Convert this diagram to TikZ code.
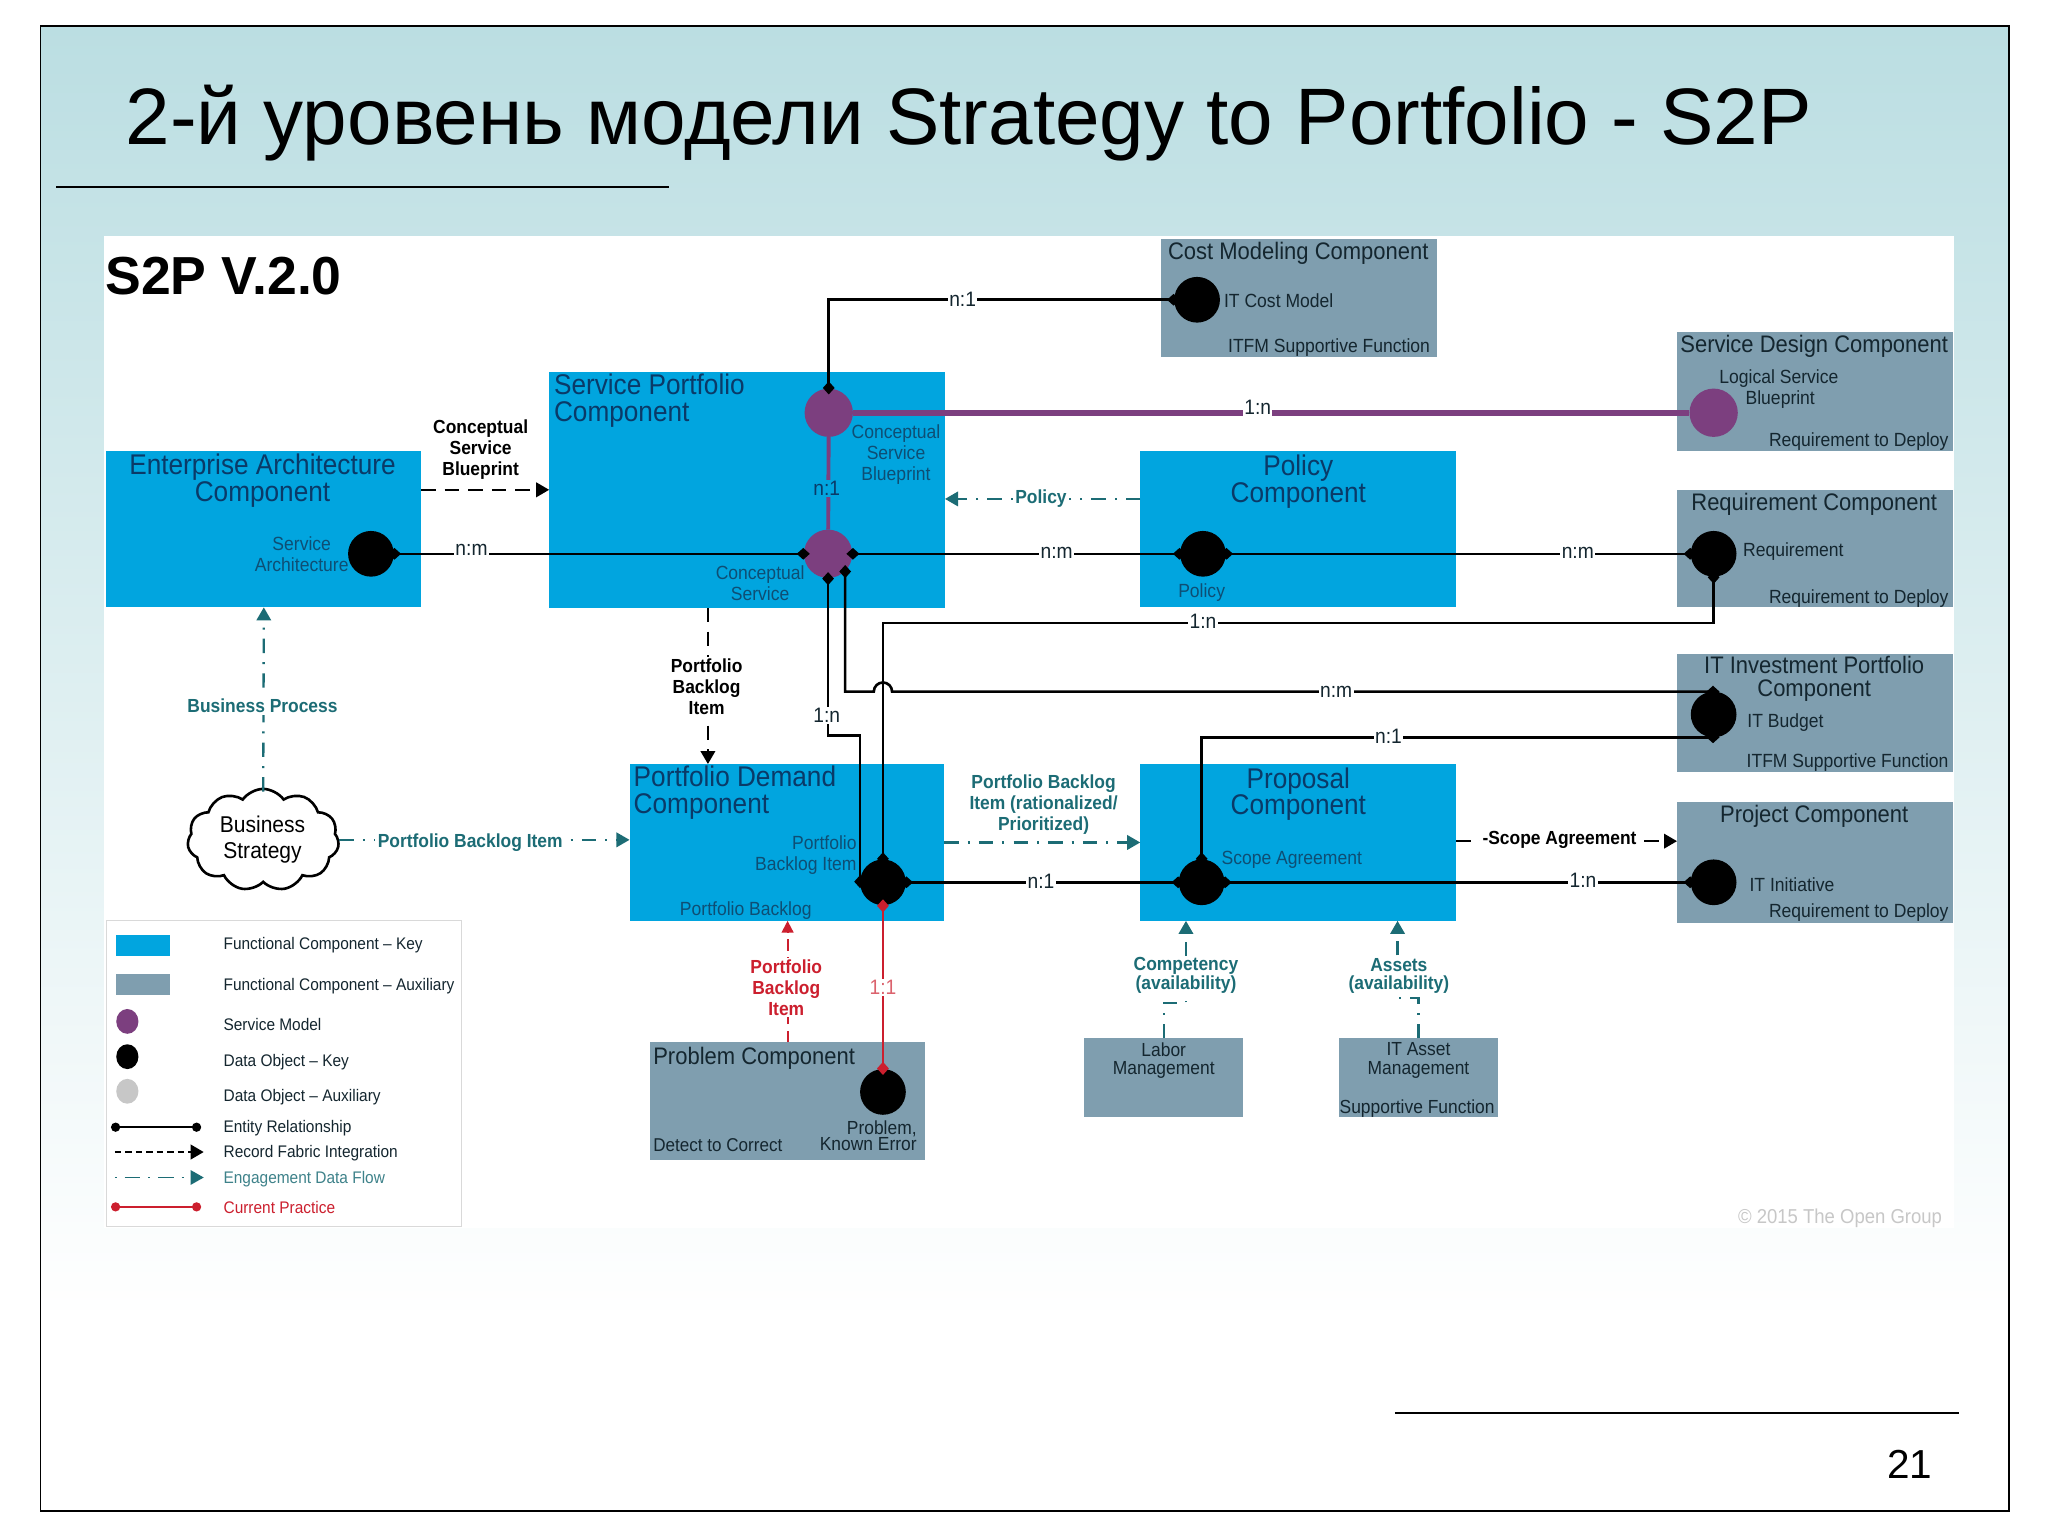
\documentclass[tikz,border=0pt]{standalone}
\usepackage{fontspec}
\setmainfont[FakeStretch=0.92]{Liberation Sans}
\newfontfamily\ttlfont{Liberation Sans}
\usetikzlibrary{arrows.meta,shapes.symbols,shapes.geometric}
\definecolor{keyblue}{HTML}{01A5DF}
\definecolor{auxgrey}{HTML}{7F9EAF}
\definecolor{svcpurple}{HTML}{7C3F7F}
\definecolor{navy}{HTML}{0A3A68}
\definecolor{midnavy}{HTML}{0E4E74}
\definecolor{inkdark}{HTML}{14262F}
\definecolor{flowteal}{HTML}{1C6C75}
\definecolor{redline}{HTML}{CC1F2E}
\definecolor{slidetop}{HTML}{BBDEE2}
\tikzset{
 x=1pt,y=-1pt,
 box/.style={rectangle,inner sep=0pt,outer sep=0pt},
 keybox/.style={box,fill=keyblue},
 auxbox/.style={box,fill=auxgrey},
 dobj/.style={circle,fill=black,inner sep=0pt,outer sep=0pt,minimum size=35pt},
 svcobj/.style={circle,fill=svcpurple,inner sep=0pt,outer sep=0pt,minimum size=37pt},
 ktitle/.style={inner sep=0pt,yshift=-1pt,align=center,text=navy,font=\fontsize{21.8}{20.5}\selectfont},
 ktitlel/.style={ktitle,anchor=west,align=left},
 atitle/.style={inner sep=0pt,yshift=-1pt,align=center,text=inkdark,font=\fontsize{18.3}{17.5}\selectfont},
 ksub/.style={inner sep=0pt,yshift=-1pt,align=center,text=midnavy,font=\fontsize{14.6}{16}\selectfont},
 asub/.style={inner sep=0pt,yshift=-1pt,align=center,text=inkdark,font=\fontsize{14.6}{13}\selectfont},
 blk/.style={inner sep=0pt,align=center,text=black,font=\bfseries\fontsize{14.5}{16}\selectfont},
 tealb/.style={inner sep=0pt,align=center,text=flowteal,font=\bfseries\fontsize{14.5}{16}\selectfont},
 redb/.style={inner sep=0pt,align=center,text=redline,font=\bfseries\fontsize{14.5}{16}\selectfont},
 lblw/.style={fill=white,inner sep=1pt,text=inkdark,font=\fontsize{16}{16}\selectfont},
 lblb/.style={fill=keyblue,inner sep=1pt,text=navy,font=\fontsize{16}{16}\selectfont},
 lgd/.style={inner sep=0pt,yshift=-0.7pt,anchor=west,text=inkdark,font=\fontsize{12.85}{14}\selectfont},
 er/.style={draw=black,line width=2pt,line join=miter,{Diamond[length=10pt,width=9pt]}-{Diamond[length=10pt,width=9pt]},shorten <=-4.5pt,shorten >=-4.5pt},
 rec/.style={draw=black,line width=2pt,dash pattern=on 11pt off 7pt,-{Triangle[length=10pt,width=11pt]}},
 flow/.style={draw=flowteal,line width=1.8pt,dash pattern=on 11pt off 7pt on 1.5pt off 7pt,-{Triangle[length=10pt,width=11pt]}},
 red flow/.style={draw=redline,line width=1.4pt,dash pattern=on 9pt off 5pt,-{Triangle[length=9pt,width=9pt]}},
}
\begin{document}
\begin{tikzpicture}
\useasboundingbox (0,0) rectangle (1568,1176);
% slide
\fill[white] (0,0) rectangle (1568,1176);
\shade[top color=slidetop,bottom color=white] (31,20) rectangle (1538,1010);
\fill[white] (31,1010) rectangle (1538,1157);
\fill[white] (80,181) rectangle (1496,940);
\draw[black,line width=1.4pt] (31,20) rectangle (1538,1157);
\node[anchor=base west,inner sep=0pt,font=\ttlfont\fontsize{61.3}{61}\selectfont,text=black] (title) at (96,111) {2-й уровень модели Strategy to Portfolio - S2P};
\coordinate (tl1) at (43,143); \coordinate (tl2) at (512,143);
\draw[black,line width=1.3pt] (tl1) -- (tl2);
\coordinate (bl1) at (1068,1081.5); \coordinate (bl2) at (1500,1081.5);
\draw[black,line width=1.5pt] (bl1) -- (bl2);
\node[inner sep=0pt,font=\ttlfont\fontsize{31}{31}\selectfont] (pageno) at (1462,1121) {21};
\node[anchor=west,inner sep=0pt,font=\ttlfont\bfseries\fontsize{41}{41}\selectfont,text=black] (s2p) at (80.5,211) {S2P V.2.0};

% boxes
\node[keybox,minimum width=241pt,minimum height=120pt] (ea) at (202,405) {};
\node[keybox,minimum width=303pt,minimum height=181pt] (sp) at (572,375) {};
\node[keybox,minimum width=241pt,minimum height=120pt] (pd) at (602.5,645) {};
\node[keybox,minimum width=242pt,minimum height=120pt] (pol) at (994,405) {};
\node[keybox,minimum width=242pt,minimum height=120pt] (prop) at (994,645) {};
\node[auxbox,minimum width=211pt,minimum height=90pt] (cost) at (994.5,228) {};
\node[auxbox,minimum width=211pt,minimum height=91pt] (sd) at (1389.5,299.5) {};
\node[auxbox,minimum width=211pt,minimum height=90pt] (req) at (1389.5,420) {};
\node[auxbox,minimum width=211pt,minimum height=90pt] (inv) at (1389.5,546) {};
\node[auxbox,minimum width=211pt,minimum height=93pt] (proj) at (1389.5,660.5) {};
\node[auxbox,minimum width=210pt,minimum height=90pt] (prob) at (603,843) {};
\node[auxbox,minimum width=122pt,minimum height=60pt] (lab) at (891,825) {};
\node[auxbox,minimum width=122pt,minimum height=60pt] (ita) at (1086,825) {};
\node[cloud,cloud puffs=11,cloud puff arc=110,aspect=1.5,draw=black,line width=2pt,fill=white,minimum width=116pt,minimum height=78pt,inner sep=0pt] (strat) at (201.5,643) {};

% data objects
\node[dobj] (sa) at (284,424) {};
\node[svcobj] (csb) at (634.5,316) {};
\node[svcobj] (cs) at (634,424) {};
\node[dobj] (pbi) at (676,675.5) {};
\node[dobj] (polo) at (921,424) {};
\node[dobj] (scope) at (920,675.5) {};
\node[dobj] (itc) at (916.5,229.5) {};
\node[svcobj] (lsb) at (1312,316) {};
\node[dobj] (reqo) at (1312,424) {};
\node[dobj] (bud) at (1312,547) {};
\node[dobj] (init) at (1312,675.5) {};
\node[dobj] (pke) at (676,836) {};

% coordinates for bends
\coordinate (jreq) at (1312,477);
\coordinate (jcs) at (634,563);
\coordinate (jhop) at (0,529.5);
\coordinate (hopa) at (669,529.5);
\coordinate (jlab) at (891,768);
\coordinate (jlabb) at (908,768);
\coordinate (jita) at (1086,764);
\coordinate (jitb) at (1070,764);

% entity relationships
\draw[er] (itc.west) -- (csb.north |- itc.west) -- (csb.north);
\draw[er] (sa) -- (cs);
\draw[er] (cs) -- (polo);
\draw[er] (polo) -- (reqo);
\draw[er] (reqo.south) -- (jreq) -- (pbi.north |- jreq) -- (pbi.north);
\draw[er] (cs.south) -- (jcs) -- (pbi.west |- jcs) -- (pbi.west);
\draw[er] (cs.-45) -- (cs.-45 |- jhop) -- (hopa) arc[start angle=180,end angle=0,radius=7pt] -- (bud.north);
\draw[er] (bud.south) -- (scope.north |- bud.south) -- (scope.north);
\draw[er] (pbi) -- (scope);
\draw[er] (scope) -- (init);
\draw[draw=svcpurple,line width=4.5pt] (csb) -- (lsb);
\draw[draw=svcpurple,line width=3pt] (csb) -- (cs);
\draw[er,draw=redline,line width=2pt] (pbi.south) -- (pke.north);

% integration and flows
\draw[rec] (ea.east |- 0,375) -- (sp.west |- 0,375);
\draw[rec] (sp.south -| 542,0) -- (pd.north -| 542,0);
\draw[rec] (prop.east |- 0,644) -- (proj.west |- 0,644);
\draw[flow] (strat.north |- 0,606) -- (ea.south -| 202,0);
\draw[flow] (strat.east) -- (pd.west |- strat.east);
\draw[flow] (pol.west |- 0,382) -- (sp.east |- 0,382);
\draw[flow] (pd.east |- 0,645) -- (prop.west |- 0,645);
\draw[flow] (lab.north) -- (jlab) -- (jlabb) -- (jlabb |- prop.south);
\draw[flow] (ita.north) -- (jita) -- (jitb) -- (jitb |- prop.south);
\draw[red flow] (prob.north) -- (pd.south -| prob.north);

% connector labels
\node[lblw] (l1) at (737,229) {n:1};
\node[lblw] (l2) at (963,312) {1:n};
\node[lblb] (l3) at (633,374) {n:1};
\node[lblw] (l4) at (361,421) {n:m};
\node[lblw] (l5) at (809,423) {n:m};
\node[lblw] (l6) at (1208,423) {n:m};
\node[lblw] (l7) at (921,476) {1:n};
\node[lblw] (l8) at (1023,530) {n:m};
\node[lblw] (l9) at (1063,564) {n:1};
\node[lblw] (l10) at (633,548) {1:n};
\node[lblw] (l11) at (797,675) {n:1};
\node[lblw] (l12) at (1212,674) {1:n};
\node[lblw,text=redline!70] (l13) at (676,756) {1:1};

\node[blk,fill=white,inner sep=2pt] (t1) at (368,344) {Conceptual\\Service\\Blueprint};
\node[blk,fill=white,inner sep=2pt] (t2) at (541,526) {Portfolio\\Backlog\\Item};
\node[blk,fill=white,inner sep=2pt] (t3) at (1194,643) {-Scope Agreement};
\node[tealb,fill=white,inner sep=2pt] (t4) at (201,540) {Business Process};
\node[tealb,fill=white,inner sep=2pt] (t5) at (360,645) {Portfolio Backlog Item};
\node[tealb,fill=white,inner sep=2pt] (t6) at (797,382) {Policy};
\node[tealb,fill=white,inner sep=1pt] (t7) at (799,616) {Portfolio Backlog\\Item (rationalized/\\Prioritized)};
\node[tealb,fill=white,inner sep=1pt,font=\bfseries\fontsize{14.5}{13.5}\selectfont] (t8) at (908,747) {Competency\\(availability)};
\node[tealb,fill=white,inner sep=1pt,font=\bfseries\fontsize{14.5}{13.5}\selectfont] (t9) at (1071,747) {Assets\\(availability)};
\node[redb,fill=white,inner sep=1pt] (t10) at (602,756) {Portfolio\\Backlog\\Item};

% texts in the boxes
\node[ktitle] (ea t) at (201,367) {Enterprise Architecture\\Component};
\node[ksub] (sa t) at (231,423.5) {Service\\Architecture};
\node[ktitlel] (sp t) at (424,306) {Service Portfolio\\Component};
\node[ksub] (csb t) at (686,347) {Conceptual\\Service\\Blueprint};
\node[ksub] (cs t) at (582,445.5) {Conceptual\\Service};
\node[ktitle] (pol t) at (994,368) {Policy\\Component};
\node[ksub] (polo t) at (920,453) {Policy};
\node[ktitlel] (pd t) at (485,606) {Portfolio Demand\\Component};
\node[ksub,align=right,anchor=east] (pbi t) at (656,653.5) {Portfolio\\Backlog Item};
\node[ksub] (pb t) at (571,696) {Portfolio Backlog};
\node[ktitle] (prop t) at (994,607) {Proposal\\Component};
\node[ksub] (scope t) at (989,657) {Scope Agreement};

\node[atitle] (cost t) at (994,193) {Cost Modeling Component};
\node[asub] (itc t) at (979,229.5) {IT Cost Model};
\node[asub,anchor=east] (cost f) at (1095,265) {ITFM Supportive Function};
\node[atitle] (sd t) at (1389,264) {Service Design Component};
\node[asub] (lsb t1) at (1362,289) {Logical Service};
\node[asub] (lsb t2) at (1363,305) {Blueprint};
\node[asub,anchor=east] (sd f) at (1492,337) {Requirement to Deploy};
\node[atitle] (req t) at (1389,385) {Requirement Component};
\node[asub] (reqo t) at (1373,421) {Requirement};
\node[asub,anchor=east] (req f) at (1492,457) {Requirement to Deploy};
\node[atitle] (inv t) at (1389,519) {IT Investment Portfolio\\Component};
\node[asub] (bud t) at (1367,552) {IT Budget};
\node[asub,anchor=east] (inv f) at (1492,583) {ITFM Supportive Function};
\node[atitle] (proj t) at (1389,624) {Project Component};
\node[asub] (init t) at (1372,676.5) {IT Initiative};
\node[asub,anchor=east] (proj f) at (1492,698) {Requirement to Deploy};
\node[atitle,anchor=west] (prob t) at (500,809) {Problem Component};
\node[asub,anchor=west,font=\fontsize{14.2}{14}\selectfont] (prob f) at (500,875.5) {Detect to Correct};
\node[asub,anchor=east,align=right,font=\fontsize{14.5}{12.5}\selectfont] (pke t) at (702,868.5) {Problem,\\Known Error};
\node[asub,font=\fontsize{14.5}{14}\selectfont] (lab t) at (891,811) {Labor\\Management};
\node[asub,font=\fontsize{14.5}{14}\selectfont] (ita t) at (1086,811) {IT Asset\\Management};
\node[asub,font=\fontsize{14.5}{14}\selectfont] (ita f) at (1085,848) {Supportive Function};
\node[inner sep=0pt,yshift=-1pt,align=center,text=black,font=\fontsize{17.5}{20}\selectfont] (strat t) at (201,642) {Business\\Strategy};
\node[inner sep=0pt,yshift=-1pt,anchor=east,text=black!22,font=\fontsize{15.4}{14}\selectfont] (copyr) at (1487,932) {© 2015 The Open Group};

% legend
\node[box,draw=black!15,line width=1pt,fill=white,minimum width=272pt,minimum height=234pt] (lg) at (217.5,822) {};
\node[keybox,minimum width=42pt,minimum height=16pt] (k1) at (109.5,724) {};
\node[auxbox,minimum width=42pt,minimum height=16pt] (k2) at (109.5,754) {};
\node[ellipse,fill=svcpurple,inner sep=0pt,minimum width=17pt,minimum height=19pt] (k3) at (97.5,782) {};
\node[ellipse,fill=black,inner sep=0pt,minimum width=17pt,minimum height=19pt] (k4) at (97.5,809) {};
\node[ellipse,fill=black!22,inner sep=0pt,minimum width=17pt,minimum height=19pt] (k5) at (97.5,835.5) {};
\coordinate (k6a) at (85,863); \coordinate (k6b) at (154,863);
\draw[black,line width=1.3pt,{Circle[length=7pt]}-{Circle[length=7pt]}] (k6a) -- (k6b);
\coordinate (k7a) at (88,882); \coordinate (k7b) at (156,882);
\draw[rec,dash pattern=on 5pt off 3pt] (k7a) -- (k7b);
\coordinate (k8a) at (88,901.5); \coordinate (k8b) at (156,901.5);
\draw[flow,line width=1.3pt,dash pattern=on 1.5pt off 6pt on 12pt off 6pt] (k8a) -- (k8b);
\coordinate (k9a) at (85,924); \coordinate (k9b) at (154,924);
\draw[redline,line width=1.3pt,{Circle[length=7pt]}-{Circle[length=7pt]}] (k9a) -- (k9b);
\node[lgd] (g1) at (171,723) {Functional Component – Key};
\node[lgd] (g2) at (171,754) {Functional Component – Auxiliary};
\node[lgd] (g3) at (171,784) {Service Model};
\node[lgd] (g4) at (171,812.5) {Data Object – Key};
\node[lgd] (g5) at (171,839) {Data Object – Auxiliary};
\node[lgd] (g6) at (171,863) {Entity Relationship};
\node[lgd] (g7) at (171,882) {Record Fabric Integration};
\node[lgd,text=flowteal!85] (g8) at (171,902) {Engagement Data Flow};
\node[lgd,text=redline] (g9) at (171,924) {Current Practice};
\end{tikzpicture}
\end{document}
